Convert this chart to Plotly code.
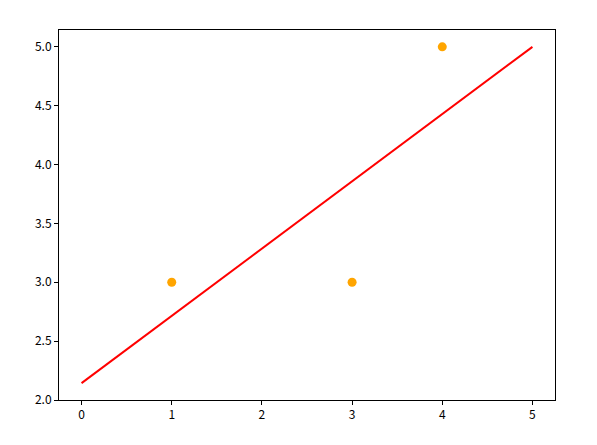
import plotly.graph_objects as go

point_x = [1, 3, 4]
point_y = [3, 3, 5]
line_x = [0, 5]
line_y = [2.143, 5.0]
x_ticks = [0, 1, 2, 3, 4, 5]
y_ticks = [2.0, 2.5, 3.0, 3.5, 4.0, 4.5, 5.0]

fig = go.Figure()
fig.add_trace(go.Scatter(x=point_x, y=point_y, mode="markers",
                         marker=dict(color="orange", size=9, line=dict(width=0)),
                         showlegend=False))
fig.add_trace(go.Scatter(x=line_x, y=line_y, mode="lines",
                         line=dict(color="red", width=2), showlegend=False))

axis_common = dict(showline=True, linecolor="black", linewidth=1, mirror=True,
                   ticks="outside", ticklen=4, tickcolor="black", tickwidth=1,
                   showgrid=False, zeroline=False,
                   tickfont=dict(family="Noto Sans CJK SC, DejaVu Sans", size=12, color="black"))
fig.update_xaxes(range=[-0.25, 5.25], tickvals=x_ticks,
                 ticktext=[str(v) for v in x_ticks], **axis_common)
fig.update_yaxes(range=[2.0, 5.143], tickvals=y_ticks,
                 ticktext=[f"{v:.1f}" for v in y_ticks], **axis_common)

fig.update_layout(width=597, height=445, margin=dict(l=51, r=50, t=22, b=53),
                  plot_bgcolor="white", paper_bgcolor="white")
fig.write_html("out.html")
